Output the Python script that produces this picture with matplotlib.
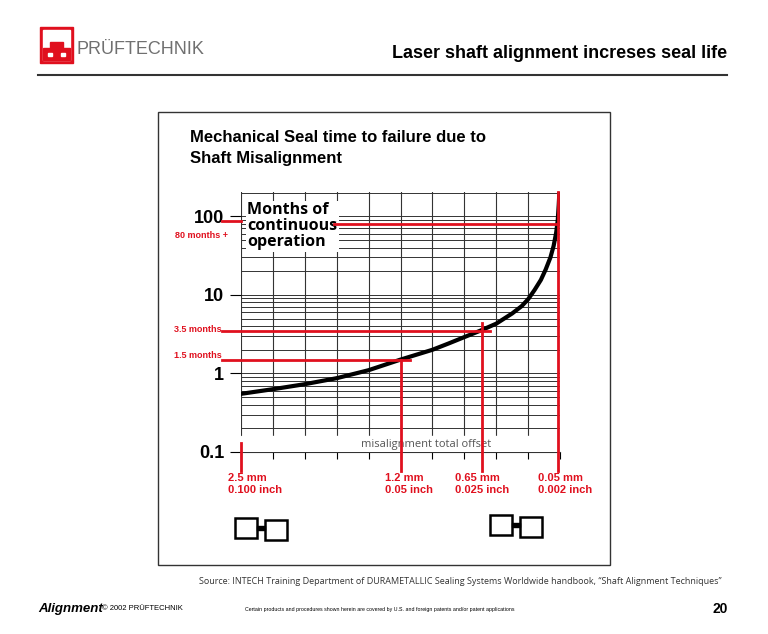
import matplotlib
matplotlib.use("Agg")
import matplotlib.pyplot as plt
from matplotlib.patches import Rectangle
import numpy as np

plt.rcParams['font.family'] = ['Liberation Sans', 'DejaVu Sans']

# Data
curve_x = [0, 1, 2, 3, 4, 5, 6, 6.5, 7, 7.5, 8, 8.5, 8.8, 9.0, 9.2, 9.4, 9.55, 9.7, 9.8, 9.88, 9.93, 9.96, 9.98]
curve_y = [0.55, 0.63, 0.73, 0.87, 1.1, 1.5, 2.0, 2.4, 2.9, 3.5, 4.3, 5.8, 7.2, 8.8, 11.5, 15.5, 21, 30, 42, 62, 90, 140, 200]
yticks = [0.1, 1, 10, 100]
ytick_labels = ["0.1", "1", "10", "100"]
mark_labels = ["2.5 mm\n0.100 inch", "1.2 mm\n0.05 inch", "0.65 mm\n0.025 inch", "0.05 mm\n0.002 inch"]
month_labels = ["80 months +", "3.5 months", "1.5 months"]

W, H = 768, 634
fig = plt.figure(figsize=(W/100, H/100), dpi=100)
def fx(p): return p / W
def fy(p): return 1 - p / H
RED = "#e0101e"
TF = fig.transFigure

# header logo
fig.add_artist(Rectangle((fx(40), fy(63)), fx(33), 36/H, color=RED, transform=TF))
fig.add_artist(Rectangle((fx(43), fy(60)), fx(27), 30/H, color="white", transform=TF))
fig.add_artist(Rectangle((fx(43), fy(60)), fx(27), 12/H, color=RED, transform=TF))
fig.add_artist(Rectangle((fx(50), fy(50)), fx(13), 8/H, color=RED, transform=TF))
fig.add_artist(Rectangle((fx(48), fy(56)), fx(4), 3/H, color="white", transform=TF))
fig.add_artist(Rectangle((fx(61), fy(56)), fx(4), 3/H, color="white", transform=TF))
fig.text(fx(76), fy(49), "PRÜFTECHNIK", fontsize=13, color="#707070", va="center")
fig.text(fx(727), fy(53), "Laser shaft alignment increses seal life", fontsize=13,
         fontweight="bold", ha="right", va="center")
fig.add_artist(plt.Line2D([fx(38), fx(727)], [fy(75), fy(75)], color="#333333", lw=1.5))

# outer frame
fig.add_artist(Rectangle((fx(158), fy(565)), fx(452), 453/H, fill=False, ec="#333333", lw=1,
                         transform=TF))
fig.text(fx(190), fy(148), "Mechanical Seal time to failure due to\nShaft Misalignment",
         fontsize=12, fontweight="bold", va="center", linespacing=1.45)

ax = fig.add_axes([fx(241), fy(452), fx(560) - fx(241), (452 - 192) / H])
ax.set_yscale("log")
ax.set_ylim(0.1, 204)
ax.set_xlim(0, 10)
ax.set_xticks(np.arange(0, 11, 1))
ax.set_xticklabels([])
ax.grid(True, which="major", axis="x", color="#333333", lw=0.8)
ax.grid(True, which="both", axis="y", color="#333333", lw=0.7)
ax.set_yticks(yticks)
ax.set_yticklabels(ytick_labels, fontsize=13, fontweight="bold")
ax.tick_params(axis="y", which="minor", length=0)
ax.tick_params(axis="y", which="major", length=8, pad=4)
ax.tick_params(axis="x", length=5, direction="out")
for s in ["top", "right", "left"]:
    ax.spines[s].set_visible(False)
ax.spines["bottom"].set_color("#333333")

ax.plot(curve_x, curve_y, color="black", lw=3, solid_capstyle="round", solid_joinstyle="round", zorder=5)

ax.add_patch(Rectangle((0, 0.1), 10, 0.06, color="white", zorder=3))
ax.text(5.8, 0.126, "misalignment total offset", fontsize=8, color="#555555", ha="center",
        va="center", zorder=4, family=['Open Sans'])
ax.text(0.2, 150, "Months of\ncontinuous\noperation", fontsize=11.5, fontweight="bold", va="top",
        zorder=6, family=['Open Sans'], linespacing=1.0, bbox=dict(fc="white", ec="none", pad=1))

kw = dict(color=RED, lw=2, clip_on=False, zorder=7)
ax.plot([2.9, 9.95], [80, 80], **kw)
ax.plot([-0.6, 0], [86, 86], **kw)
ax.plot([-0.6, 7.8], [3.5, 3.5], **kw)
ax.plot([-0.6, 5.3], [1.5, 1.5], **kw)
ax.plot([5.0, 5.0], [1.5, 0.058], **kw)
ax.plot([7.55, 7.55], [4.4, 0.058], **kw)
ax.plot([9.95, 9.95], [204, 0.058], **kw)
ax.plot([0, 0], [0.13, 0.058], **kw)

fig.text(fx(228), fy(236), month_labels[0], fontsize=6.5, color=RED, ha="right", va="center", fontweight="bold")
fig.text(fx(222), fy(330), month_labels[1], fontsize=6.5, color=RED, ha="right", va="center", fontweight="bold")
fig.text(fx(222), fy(355), month_labels[2], fontsize=6.5, color=RED, ha="right", va="center", fontweight="bold")
for lab, px in zip(mark_labels, [228, 385, 455, 538]):
    fig.text(fx(px), fy(484), lab, fontsize=8, color=RED, fontweight="bold", va="center",
             linespacing=1.3)

# motor icons
for (x0, y0) in [(235, 518), (490, 515)]:
    fig.add_artist(Rectangle((fx(x0), fy(y0 + 20)), fx(22), 20/H, fill=False, ec="black", lw=1.8,
                             transform=TF))
    fig.add_artist(Rectangle((fx(x0 + 30), fy(y0 + 22)), fx(22), 20/H, fill=False, ec="black", lw=1.8,
                             transform=TF))
    fig.add_artist(Rectangle((fx(x0 + 22), fy(y0 + 12)), fx(8), 4/H, color="black", transform=TF))

fig.text(fx(460), fy(581), "Source: INTECH Training Department of DURAMETALLIC Sealing Systems Worldwide handbook, \u201cShaft Alignment Techniques\u201d",
         fontsize=6.5, ha="center", va="center", color="#333333", family=['Open Sans'])
fig.text(fx(38), fy(609), "Alignment", fontsize=9.5, fontweight="bold", style="italic", va="center")
fig.text(fx(102), fy(609), "© 2002 PRÜFTECHNIK", fontsize=5.5, va="center")
fig.text(fx(380), fy(610), "Certain products and procedures shown herein are covered by U.S. and foreign patents and/or patent applications",
         fontsize=3.8, ha="center", va="center")
fig.text(fx(728), fy(609), "20", fontsize=10, fontweight="bold", ha="right", va="center")

fig.savefig("out.png", dpi=100)
